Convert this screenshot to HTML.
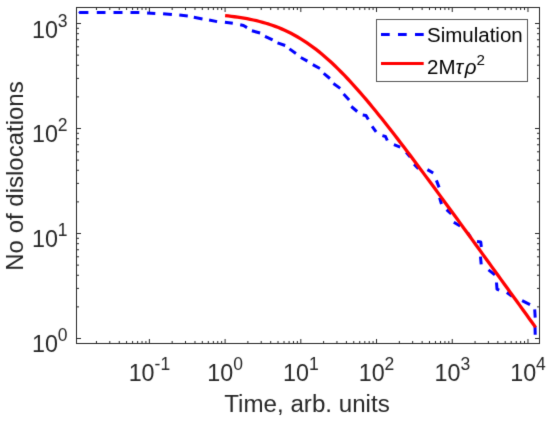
<!DOCTYPE html>
<html><head><meta charset="utf-8"><style>
html,body{margin:0;padding:0;background:#fff;width:550px;height:421px;overflow:hidden}
svg{display:block}
</style></head><body>
<svg width="550" height="421" viewBox="0 0 550 421"><defs><filter id="soft" x="0" y="0" width="550" height="421" filterUnits="userSpaceOnUse" color-interpolation-filters="sRGB"><feConvolveMatrix order="3" kernelMatrix="0.01134 0.08382 0.01134 0.08382 0.61935 0.08382 0.01134 0.08382 0.01134" divisor="1" edgeMode="duplicate" preserveAlpha="true"/></filter></defs><g filter="url(#soft)"><rect x="0" y="0" width="550" height="421" fill="#fff"/>
<path d="M96.45 343.5V341.0M96.45 7.5V10.0M109.79 343.5V341.0M109.79 7.5V10.0M119.25 343.5V341.0M119.25 7.5V10.0M126.59 343.5V341.0M126.59 7.5V10.0M132.58 343.5V341.0M132.58 7.5V10.0M137.65 343.5V341.0M137.65 7.5V10.0M142.04 343.5V341.0M142.04 7.5V10.0M145.92 343.5V341.0M145.92 7.5V10.0M149.38 343.5V339.0M149.38 7.5V12.0M172.17 343.5V341.0M172.17 7.5V10.0M185.51 343.5V341.0M185.51 7.5V10.0M194.97 343.5V341.0M194.97 7.5V10.0M202.31 343.5V341.0M202.31 7.5V10.0M208.30 343.5V341.0M208.30 7.5V10.0M213.37 343.5V341.0M213.37 7.5V10.0M217.76 343.5V341.0M217.76 7.5V10.0M221.64 343.5V341.0M221.64 7.5V10.0M225.10 343.5V339.0M225.10 7.5V12.0M247.89 343.5V341.0M247.89 7.5V10.0M261.23 343.5V341.0M261.23 7.5V10.0M270.69 343.5V341.0M270.69 7.5V10.0M278.03 343.5V341.0M278.03 7.5V10.0M284.02 343.5V341.0M284.02 7.5V10.0M289.09 343.5V341.0M289.09 7.5V10.0M293.48 343.5V341.0M293.48 7.5V10.0M297.36 343.5V341.0M297.36 7.5V10.0M300.82 343.5V339.0M300.82 7.5V12.0M323.61 343.5V341.0M323.61 7.5V10.0M336.95 343.5V341.0M336.95 7.5V10.0M346.41 343.5V341.0M346.41 7.5V10.0M353.75 343.5V341.0M353.75 7.5V10.0M359.74 343.5V341.0M359.74 7.5V10.0M364.81 343.5V341.0M364.81 7.5V10.0M369.20 343.5V341.0M369.20 7.5V10.0M373.08 343.5V341.0M373.08 7.5V10.0M376.54 343.5V339.0M376.54 7.5V12.0M399.33 343.5V341.0M399.33 7.5V10.0M412.67 343.5V341.0M412.67 7.5V10.0M422.13 343.5V341.0M422.13 7.5V10.0M429.47 343.5V341.0M429.47 7.5V10.0M435.46 343.5V341.0M435.46 7.5V10.0M440.53 343.5V341.0M440.53 7.5V10.0M444.92 343.5V341.0M444.92 7.5V10.0M448.80 343.5V341.0M448.80 7.5V10.0M452.26 343.5V339.0M452.26 7.5V12.0M475.05 343.5V341.0M475.05 7.5V10.0M488.39 343.5V341.0M488.39 7.5V10.0M497.85 343.5V341.0M497.85 7.5V10.0M505.19 343.5V341.0M505.19 7.5V10.0M511.18 343.5V341.0M511.18 7.5V10.0M516.25 343.5V341.0M516.25 7.5V10.0M520.64 343.5V341.0M520.64 7.5V10.0M524.52 343.5V341.0M524.52 7.5V10.0M527.98 343.5V339.0M527.98 7.5V12.0M76.5 338.50H81.0M539.5 338.50H535.0M76.5 306.89H79.0M539.5 306.89H537.0M76.5 288.40H79.0M539.5 288.40H537.0M76.5 275.28H79.0M539.5 275.28H537.0M76.5 265.11H79.0M539.5 265.11H537.0M76.5 256.79H79.0M539.5 256.79H537.0M76.5 249.76H79.0M539.5 249.76H537.0M76.5 243.68H79.0M539.5 243.68H537.0M76.5 238.30H79.0M539.5 238.30H537.0M76.5 233.50H81.0M539.5 233.50H535.0M76.5 201.89H79.0M539.5 201.89H537.0M76.5 183.40H79.0M539.5 183.40H537.0M76.5 170.28H79.0M539.5 170.28H537.0M76.5 160.11H79.0M539.5 160.11H537.0M76.5 151.79H79.0M539.5 151.79H537.0M76.5 144.76H79.0M539.5 144.76H537.0M76.5 138.68H79.0M539.5 138.68H537.0M76.5 133.30H79.0M539.5 133.30H537.0M76.5 128.50H81.0M539.5 128.50H535.0M76.5 96.89H79.0M539.5 96.89H537.0M76.5 78.40H79.0M539.5 78.40H537.0M76.5 65.28H79.0M539.5 65.28H537.0M76.5 55.11H79.0M539.5 55.11H537.0M76.5 46.79H79.0M539.5 46.79H537.0M76.5 39.76H79.0M539.5 39.76H537.0M76.5 33.68H79.0M539.5 33.68H537.0M76.5 28.30H79.0M539.5 28.30H537.0M76.5 23.50H81.0M539.5 23.50H535.0" stroke="#262626" stroke-width="1" fill="none"/>
<path d="M79.2,12.4L88.4,12.4M96.8,12.4L105.5,12.4M113.5,12.4L122.5,12.4M130.5,12.4L139.3,12.6M147.1,13.1L155.3,13.6M163.1,13.8L171.9,14.6M179.3,14.9L187.8,16.0M193.8,17.3L202.5,18.9M209.1,20.0L217.1,21.6M224.9,22.2L232.8,23.3M240.2,24.8L243.5,25.5L247,27.6M251.9,30.8L260.1,33.0M265,36.3L272.6,39.9M277.5,42.8L285.2,45.5M289.5,48.9L295.9,53.5M300.8,57.5L307.4,61.1M312.8,64.6L319.9,68.5M323.7,73.3L329.9,78.5M333.4,83.5L340.2,88.4M343.6,94.0L349.1,100.0M351.3,106.5L357.2,111.5M362.7,114.9L366,115.5L368.3,119.5M372.1,126.4L376.1,131.8M382.4,135.6L385.5,136.5L387.3,140.5M393.9,144.6L400.2,147.1M406.2,152.3L410.2,157M414.1,164.3L418.4,168.8M427.4,169.6L433.2,173.0M436.4,180.4L439.1,187.4M439.6,197.8L441.5,204M446.6,209.7L451.2,213.9M453.8,222.3L460.1,226M467.6,232.6L470.6,237.3M477,241.5L480.8,242.1L481.3,247M480.5,256.6L481.2,264.4M488.5,269.9L494.9,274.9M496.5,282.5L497,289.1L499.2,290.2M506.8,292.6L512.1,296.2M522.1,300.7L530,304.7M534.7,309.3L535.2,317.6M535,326.5L535.2,334.8" fill="none" stroke="#0000ff" stroke-width="3" stroke-linejoin="round"/><path d="M78.2,12.5L79.6,10.9L79.6,14.1Z" fill="#0000ff"/>
<polyline points="225.10,15.64 228.24,15.98 231.37,16.34 234.51,16.74 237.65,17.18 240.78,17.65 243.92,18.17 247.05,18.73 250.19,19.34 253.33,20.00 256.46,20.71 259.60,21.49 262.74,22.33 265.87,23.23 269.01,24.20 272.15,25.25 275.28,26.38 278.42,27.58 281.55,28.88 284.69,30.26 287.83,31.73 290.96,33.29 294.10,34.95 297.24,36.72 300.37,38.58 303.51,40.54 306.65,42.61 309.78,44.78 312.92,47.06 316.05,49.43 319.19,51.91 322.33,54.49 325.46,57.17 328.60,59.95 331.74,62.82 334.87,65.79 338.01,68.84 341.15,71.97 344.28,75.19 347.42,78.49 350.55,81.86 353.69,85.30 356.83,88.81 359.96,92.38 363.10,96.01 366.24,99.69 369.37,103.43 372.51,107.21 375.65,111.04 378.78,114.92 381.92,118.83 385.05,122.77 388.19,126.76 391.33,130.77 394.46,134.81 397.60,138.87 400.74,142.97 403.87,147.08 407.01,151.21 410.15,155.36 413.28,159.53 416.42,163.72 419.55,167.92 422.69,172.13 425.83,176.36 428.96,180.59 432.10,184.84 435.24,189.09 438.37,193.36 441.51,197.63 444.65,201.91 447.78,206.19 450.92,210.48 454.05,214.78 457.19,219.08 460.33,223.38 463.46,227.69 466.60,232.00 469.74,236.32 472.87,240.64 476.01,244.96 479.15,249.28 482.28,253.61 485.42,257.94 488.55,262.27 491.69,266.60 494.83,270.93 497.96,275.27 501.10,279.60 504.24,283.94 507.37,288.28 510.51,292.62 513.65,296.96 516.78,301.30 519.92,305.64 523.05,309.98 526.19,314.33 529.33,318.67 532.46,323.01 535.60,327.36" fill="none" stroke="#ff0000" stroke-width="3.3" stroke-linejoin="round"/>
<rect x="76.5" y="7.5" width="463.0" height="336.0" fill="none" stroke="#262626" stroke-width="1"/>
<g font-family="Liberation Sans, Arial, sans-serif" font-size="23.3" fill="#262626"><text x="149.4" y="380.9" text-anchor="middle">10<tspan dy="-11" font-size="17.5">-1</tspan></text><text x="225.1" y="380.9" text-anchor="middle">10<tspan dy="-11" font-size="17.5">0</tspan></text><text x="300.8" y="380.9" text-anchor="middle">10<tspan dy="-11" font-size="17.5">1</tspan></text><text x="376.5" y="380.9" text-anchor="middle">10<tspan dy="-11" font-size="17.5">2</tspan></text><text x="452.3" y="380.9" text-anchor="middle">10<tspan dy="-11" font-size="17.5">3</tspan></text><text x="528.0" y="380.9" text-anchor="middle">10<tspan dy="-11" font-size="17.5">4</tspan></text><text x="67.6" y="352.0" text-anchor="end">10<tspan dy="-11" font-size="17.5">0</tspan></text><text x="67.6" y="246.5" text-anchor="end">10<tspan dy="-11" font-size="17.5">1</tspan></text><text x="67.6" y="141.7" text-anchor="end">10<tspan dy="-11" font-size="17.5">2</tspan></text><text x="67.6" y="37.5" text-anchor="end">10<tspan dy="-11" font-size="17.5">3</tspan></text></g>
<text x="307" y="412" text-anchor="middle" font-family="Liberation Sans, Arial, sans-serif" font-size="24.15" fill="#262626">Time, arb. units</text>
<text transform="translate(22.8 176) rotate(-90)" x="0" y="0" text-anchor="middle" font-family="Liberation Sans, Arial, sans-serif" font-size="24" fill="#262626">No of dislocations</text>
<rect x="376.5" y="19.5" width="151.0" height="62.0" fill="#fff" stroke="#555" stroke-width="1"/><line x1="381" y1="34.5" x2="423.8" y2="34.5" stroke="#0000ff" stroke-width="3" stroke-dasharray="8.7 8.3"/><line x1="381" y1="63.5" x2="423.7" y2="63.5" stroke="#ff0000" stroke-width="3"/><text x="427" y="41.8" font-family="Liberation Sans, Arial, sans-serif" font-size="20.5" fill="#000">Simulation</text><text x="427" y="74.4" font-family="Liberation Sans, Arial, sans-serif" font-size="20.5" fill="#000">2M<tspan font-style="italic">τ</tspan><tspan font-style="italic" dx="1.5">ρ</tspan><tspan dy="-9.8" font-size="15.2">2</tspan></text></g></svg>
</body></html>
